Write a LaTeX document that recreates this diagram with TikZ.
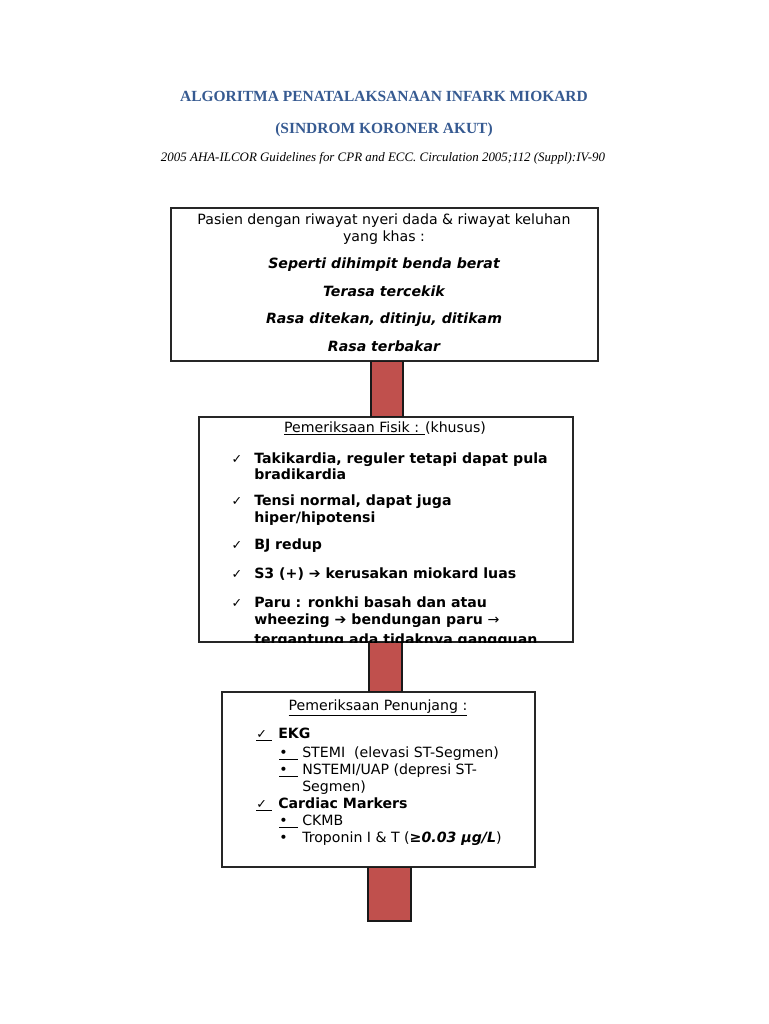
\documentclass[tikz,border=0pt]{standalone}
\usepackage{fontspec}
\setmainfont{DejaVu Sans}
\newfontfamily\judulfont{Liberation Serif}
\usetikzlibrary{calc}
\definecolor{judulbiru}{RGB}{54,90,145}
\definecolor{batangmerah}{RGB}{192,80,77}

\begin{document}
\begin{tikzpicture}[x=0.75pt, y=-0.75pt,
  kotak/.style={draw=black!85, line width=0.8pt, inner sep=0pt},
  batang/.style={draw=black!90, fill=batangmerah, line width=0.8pt},
  teks/.style={inner sep=0pt, font=\fontsize{10.6}{12}\selectfont},
  tebal/.style={inner sep=0pt, font=\fontsize{10.6}{12}\selectfont\bfseries},
  miring/.style={inner sep=0pt, font=\fontsize{10.6}{12}\selectfont\bfseries\itshape},
  centang/.style={inner sep=0pt, font=\fontsize{9.5}{11}\selectfont}]
			% Define page size
			\useasboundingbox (0,0) rectangle (768,1024);

			% Title
			\node[inner sep=0pt, anchor=base, text=judulbiru, font=\fontsize{11.6}{13}\selectfont\judulfont\bfseries] (judul1) at (384,102) {ALGORITMA PENATALAKSANAAN INFARK MIOKARD};
			\node[inner sep=0pt, anchor=base, text=judulbiru, font=\fontsize{11.6}{13}\selectfont\judulfont\bfseries] (judul2) at (384,133) {(SINDROM KORONER AKUT)};
			\node[inner sep=0pt, anchor=base, font=\fontsize{9.7}{11}\selectfont\judulfont\itshape] (sumber) at (383,161) {2005 AHA-ILCOR Guidelines for CPR and ECC. Circulation 2005;112 (Suppl):IV-90};

			% Boxes
			\node[kotak, minimum width=320.25pt, minimum height=114.75pt] (keluhan) at (384.5,284.5) {};
			\node[kotak, minimum width=280.5pt, minimum height=168.75pt] (fisik) at (386,529.5) {};
			\node[kotak, minimum width=234.75pt, minimum height=131.25pt] (tunjang) at (378.5,779.5) {};
			\coordinate (ujung) at (411,921);

			% Red bars between the boxes
			\draw[batang] ($(keluhan.south)+(-13.5,0)$) rectangle ($(fisik.north)+(17,0)$);
			\draw[batang] ($(fisik.south)+(-17,0)$) rectangle ($(tunjang.north)+(23.5,0)$);
			\draw[batang] ($(tunjang.south)+(-10.5,0)$) rectangle (ujung);

			% Box 1
			\node[teks, anchor=base] (k1) at (384,224) {Pasien dengan riwayat nyeri dada \& riwayat keluhan};
			\node[teks, anchor=base] (k2) at (384,241) {yang khas :};
			\node[miring, anchor=base] (k3) at (384,268) {Seperti dihimpit benda berat};
			\node[miring, anchor=base] (k4) at (384,296) {Terasa tercekik};
			\node[miring, anchor=base] (k5) at (384,323) {Rasa ditekan, ditinju, ditikam};
			\node[miring, anchor=base] (k6) at (384,351) {Rasa terbakar};

			% Box 2
			\begin{scope}
				\clip (fisik.north west) rectangle (fisik.south east);
				\node[teks, anchor=base] (f0) at (385,432) {\underline{Pemeriksaan Fisik : }(khusus)};
				\node[centang, anchor=base] (c1) at (237,463) {✓};
				\node[tebal, anchor=base west] (f1) at (254,463) {Takikardia, reguler tetapi dapat pula};
				\node[tebal, anchor=base west] (f1b) at (254,479) {bradikardia};
				\node[centang, anchor=base] (c2) at (237,505) {✓};
				\node[tebal, anchor=base west] (f2) at (254,505) {Tensi normal, dapat juga};
				\node[tebal, anchor=base west] (f2b) at (254,522) {hiper/hipotensi};
				\node[centang, anchor=base] (c3) at (237,549) {✓};
				\node[tebal, anchor=base west] (f3) at (254,549) {BJ redup};
				\node[centang, anchor=base] (c4) at (237,578) {✓};
				\node[tebal, anchor=base west] (f4) at (254,578) {S3 (+) ➔ kerusakan miokard luas};
				\node[centang, anchor=base] (c5) at (237,607) {✓};
				\node[tebal, anchor=base west] (f5) at (254,607) {Paru : ronkhi basah dan atau};
				\node[tebal, anchor=base west] (f5b) at (254,624) {wheezing ➔ bendungan paru {\mdseries→}};
				\node[tebal, anchor=base west] (f5c) at (254,644) {tergantung ada tidaknya gangguan};
			\end{scope}

			% Box 3
			\node[teks, anchor=base] (t0) at (378,710) {\underline{Pemeriksaan Penunjang :}};
			\node[centang, anchor=base west] (d1) at (256,738) {\underline{✓\hspace{4pt}}};
			\node[tebal, anchor=base west] (t1) at (278,738) {EKG};
			\node[teks, anchor=base west] (b1) at (279,757) {\underline{•\hspace{8pt}}};
			\node[teks, anchor=base west] (t2) at (302,757) {STEMI\ \ (elevasi ST-Segmen)};
			\node[teks, anchor=base west] (b2) at (279,774) {\underline{•\hspace{8pt}}};
			\node[teks, anchor=base west] (t3) at (302,774) {NSTEMI/UAP (depresi ST-};
			\node[teks, anchor=base west] (t3b) at (302,791) {Segmen)};
			\node[centang, anchor=base west] (d2) at (256,808) {\underline{✓\hspace{4pt}}};
			\node[tebal, anchor=base west] (t4) at (278,808) {Cardiac Markers};
			\node[teks, anchor=base west] (b3) at (279,825) {\underline{•\hspace{8pt}}};
			\node[teks, anchor=base west] (t5) at (302,825) {CKMB};
			\node[teks, anchor=base west] (b4) at (279,842) {•};
			\node[teks, anchor=base west] (t6) at (302,842) {Troponin I \& T ({\bfseries\itshape ≥0.03 μg/L})};

		\end{tikzpicture}
\end{document}
